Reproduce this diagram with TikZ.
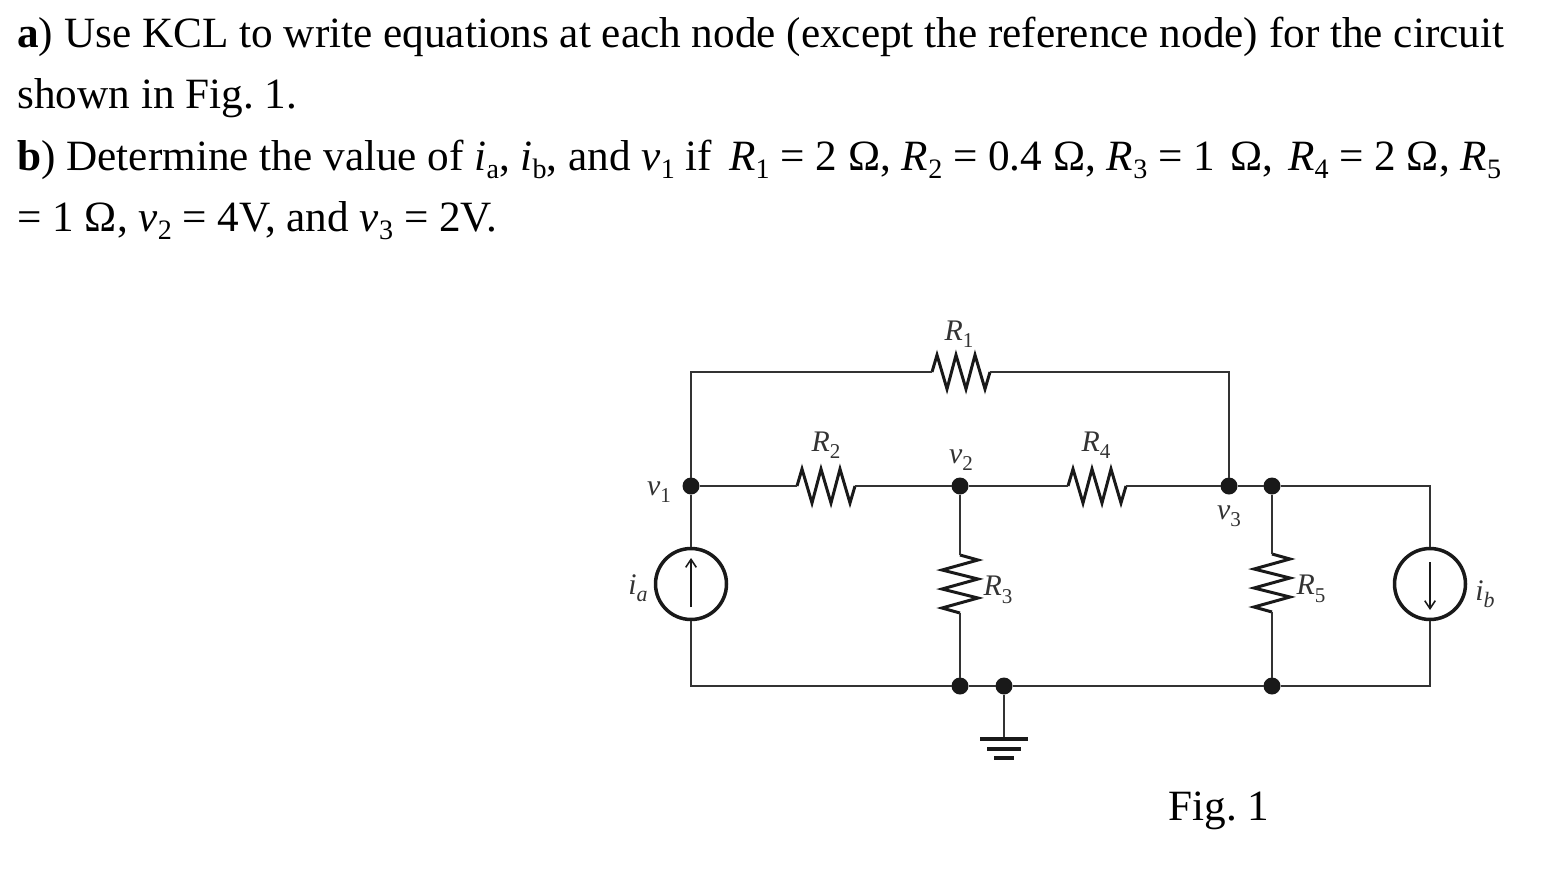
\documentclass[tikz,border=0pt]{standalone}
\usepackage{fontspec}
\setmainfont{Liberation Serif}
\usetikzlibrary{arrows.meta}
\newcommand{\sbs}[1]{\raisebox{-0.2em}{\fontsize{16}{16}\selectfont #1}}
\newcommand{\lsb}[1]{\raisebox{-0.25em}{\upshape\fontsize{12}{12}\selectfont #1}}
\newcommand{\lsi}[1]{\raisebox{-0.25em}{\fontsize{12.5}{12.5}\selectfont #1}}
\tikzset{
  wire/.style = {draw = black!80, line width = 1.2pt},
  zig/.style = {draw = black!90, line width = 1.7pt, line join = miter},
  dot/.style = {circle, fill = black!90, inner sep = 0, outer sep = 0, minimum size = 0.34cm},
  src/.style = {circle, draw = black!90, line width = 2pt, inner sep = 0, minimum size = 1.42cm},
  bar/.style = {draw = black!90, line width = 1.8pt},
  txt/.style = {anchor = base west, inner sep = 0, font = \fontsize{24.6}{28}\selectfont\frenchspacing},
  lab/.style = {inner sep = 0, text = black!80, font = \fontsize{17}{20}\selectfont\itshape},
  srcarrow/.style = {draw = black!90, line width = 0.9pt, -{Straight Barb[length = 4.5pt, width = 6pt]}},
  reshoriz/.pic = {
    \coordinate (-l) at (-29, 0);
    \coordinate (-r) at (29, 0);
    \draw[zig] (-l) -- (-24, -17) -- (-14, 17) -- (-5, -17) -- (5, 17) -- (14, -17) -- (24, 17) -- (-r);
  },
  resvert/.pic = {
    \coordinate (-t) at (0, -29);
    \coordinate (-b) at (0, 29);
    \draw[zig] (-t) -- (18, -24) -- (-18, -14) -- (18, -5) -- (-18, 5) -- (18, 14) -- (-18, 24) -- (-b);
  }
}
\begin{document}
\begin{tikzpicture}[x = 0.02cm, y = -0.02cm]
    \useasboundingbox (0, 0) rectangle (1552, 880);
    % problem text
    \node[txt] (linea) at (17, 47) {\textbf{a}) Use KCL to write equations at each node (except the reference node) for the circuit};
    \node[txt] (lineb) at (17, 108) {shown in Fig. 1.};
    \node[txt] (linec) at (17, 170) {\textbf{b}) Determine the value of \textit{i}\sbs{a}, \textit{i}\sbs{b}, and \textit{v}\sbs{1} if \hspace*{0.15em}\textit{R}\sbs{1} = 2 Ω, \textit{R}\sbs{2} = 0.4 Ω, \textit{R}\sbs{3} = 1 \hspace*{0.1em}Ω, \hspace*{0.1em}\textit{R}\sbs{4} = 2 Ω, \textit{R}\sbs{5}};
    \node[txt] (lined) at (17, 231) {= 1 Ω, \textit{v}\sbs{2} = 4V, and \textit{v}\sbs{3} = 2V.};
    % junctions
    \node[dot] (v1) at (691, 486) {};
    \node[dot] (v2) at (960, 486) {};
    \node[dot] (v3) at (1229, 486) {};
    \node[dot] (v3r) at (1272, 486) {};
    \node[dot] (g2) at (960, 686) {};
    \node[dot] (g0) at (1004, 686) {};
    \node[dot] (g5) at (1272, 686) {};
    \coordinate (topl) at (691, 372);
    \coordinate (topr) at (1229, 372);
    \coordinate (botl) at (691, 686);
    \coordinate (botr) at (1430, 686);
    \coordinate (midr) at (1430, 486);
    % sources
    \node[src] (ia) at (691, 584) {};
    \node[src] (ib) at (1430, 584) {};
    \coordinate (iatail) at (691, 607);
    \coordinate (iahead) at (691, 558);
    \coordinate (ibtail) at (1430, 562);
    \coordinate (ibhead) at (1430, 610);
    \draw[srcarrow] (iatail) -- (iahead);
    \draw[srcarrow] (ibtail) -- (ibhead);
    % resistors
    \pic (R1) at (961, 372) {reshoriz};
    \pic (R2) at (826, 486) {reshoriz};
    \pic (R4) at (1097, 486) {reshoriz};
    \pic (R3) at (960, 584) {resvert};
    \pic (R5) at (1272, 583) {resvert};
    % wires
    \draw[wire] (ia) -- (v1) -- (topl) -- (R1-l);
    \draw[wire] (R1-r) -- (topr) -- (v3);
    \draw[wire] (v1) -- (R2-l);
    \draw[wire] (R2-r) -- (v2) -- (R4-l);
    \draw[wire] (R4-r) -- (v3) -- (v3r) -- (midr) -- (ib);
    \draw[wire] (v2) -- (R3-t);
    \draw[wire] (R3-b) -- (g2);
    \draw[wire] (v3r) -- (R5-t);
    \draw[wire] (R5-b) -- (g5);
    \draw[wire] (ia) -- (botl) -- (g2) -- (g0) -- (g5) -- (botr) -- (ib);
    % ground
    \coordinate (gnd) at (1004, 739);
    \coordinate (gnd1l) at (980, 739);
    \coordinate (gnd1r) at (1028, 739);
    \coordinate (gnd2l) at (987, 749);
    \coordinate (gnd2r) at (1021, 749);
    \coordinate (gnd3l) at (994, 758);
    \coordinate (gnd3r) at (1014, 758);
    \draw[wire] (g0) -- (gnd);
    \draw[bar] (gnd1l) -- (gnd1r);
    \draw[bar] (gnd2l) -- (gnd2r);
    \draw[bar] (gnd3l) -- (gnd3r);
    % labels
    \node[lab] (lR1) at (959, 334) {R\lsb{1}};
    \node[lab] (lR2) at (826, 445) {R\lsb{2}};
    \node[lab] (lR3) at (998, 590) {R\lsb{3}};
    \node[lab] (lR4) at (1096, 445) {R\lsb{4}};
    \node[lab] (lR5) at (1311, 589) {R\lsb{5}};
    \node[lab] (lv1) at (659, 492) {v\lsb{1}};
    \node[lab] (lv2) at (961, 460) {v\lsb{2}};
    \node[lab] (lv3) at (1229, 516) {v\lsb{3}};
    \node[lab] (lia) at (638, 588) {i\lsi{a}};
    \node[lab] (lib) at (1485, 594) {i\lsi{b}};
    \node[txt] (fig) at (1168, 820) {Fig. 1};
\end{tikzpicture}
\end{document}
